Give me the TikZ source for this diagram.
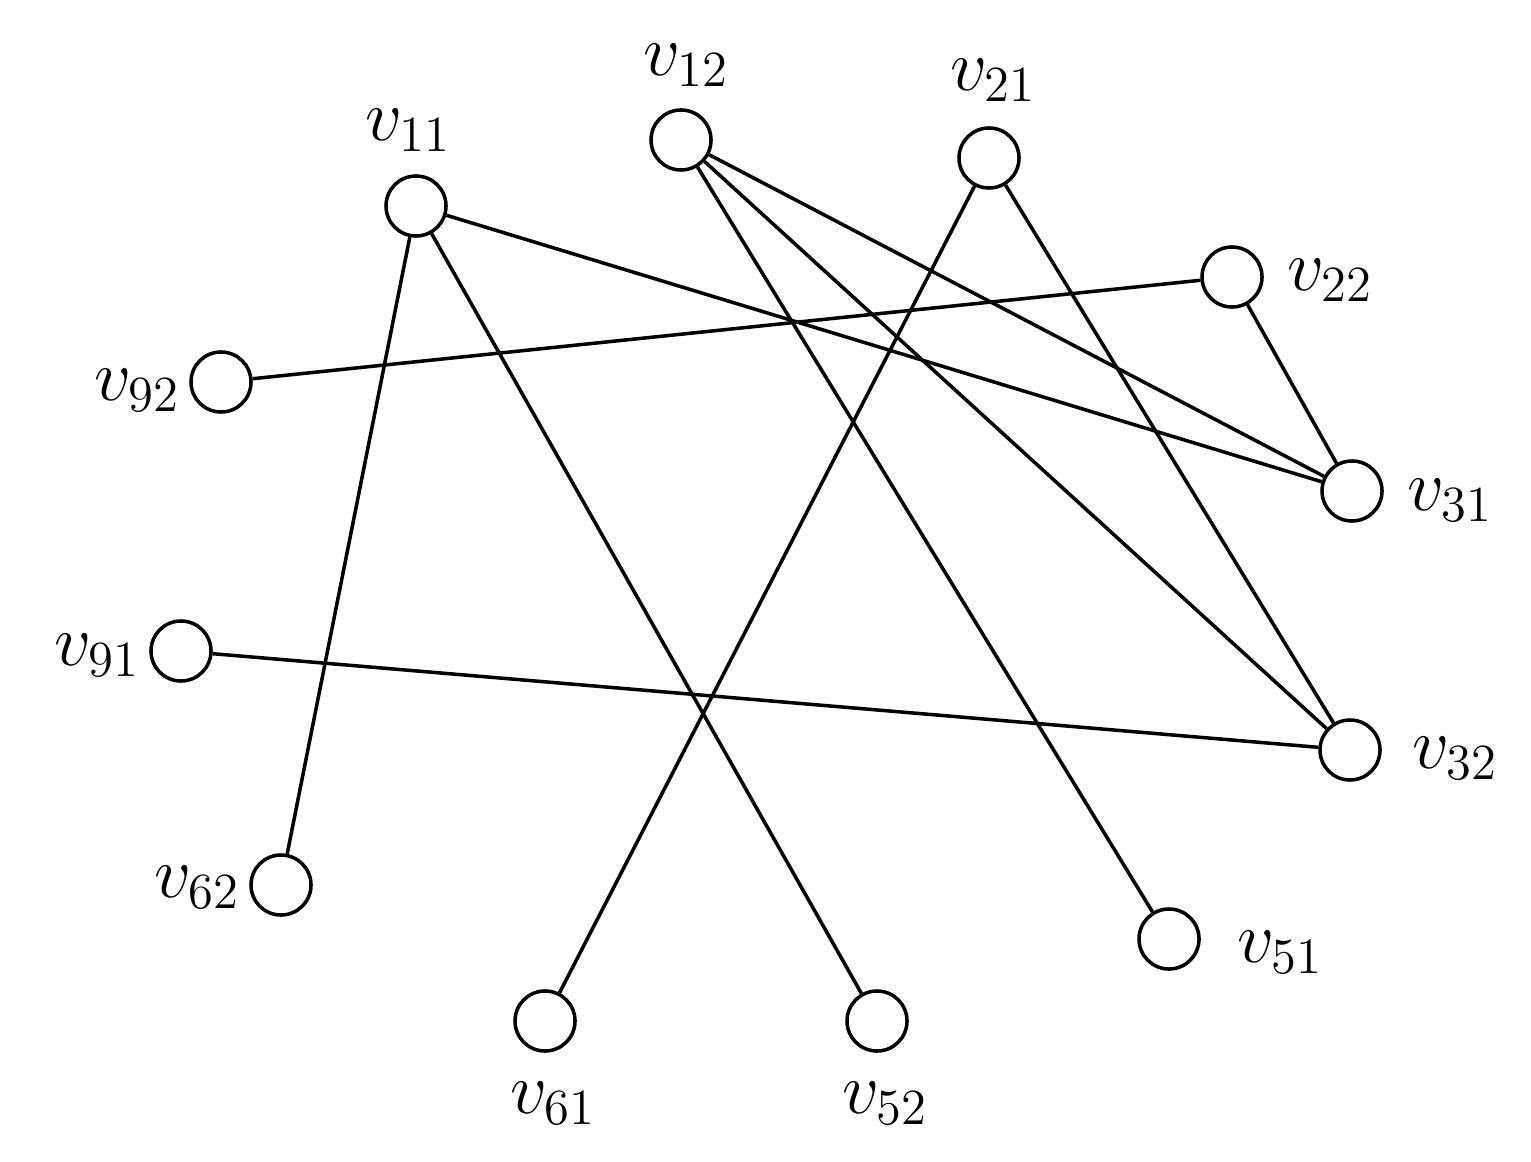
\documentclass[tikz,border=0pt]{standalone}
\begin{document}
\begin{tikzpicture}[x=0.01cm,y=-0.01cm,
  vtx/.style={circle,draw,line width=1pt,minimum size=0.6cm,inner sep=0pt},
  lab/.style={font=\fontsize{21}{24}\selectfont},
  edge/.style={line width=1pt}]
\useasboundingbox (0,0) rectangle (1531,1161);
\node[vtx] (v11) at (416,206) {}; \node[lab] (l11) at (408,130) {$v_{11}$};
\node[vtx] (v12) at (681,140) {}; \node[lab] (l12) at (686,65) {$v_{12}$};
\node[vtx] (v21) at (989,158) {}; \node[lab] (l21) at (993,80) {$v_{21}$};
\node[vtx] (v22) at (1232,277) {}; \node[lab] (l22) at (1330,280) {$v_{22}$};
\node[vtx] (v92) at (221,382) {}; \node[lab] (l92) at (137,390) {$v_{92}$};
\node[vtx] (v31) at (1352,491) {}; \node[lab] (l31) at (1450,500) {$v_{31}$};
\node[vtx] (v91) at (181,651) {}; \node[lab] (l91) at (97,655) {$v_{91}$};
\node[vtx] (v32) at (1350,750) {}; \node[lab] (l32) at (1455,758) {$v_{32}$};
\node[vtx] (v62) at (281,885) {}; \node[lab] (l62) at (197,887) {$v_{62}$};
\node[vtx] (v51) at (1169,939) {}; \node[lab] (l51) at (1280,952) {$v_{51}$};
\node[vtx] (v61) at (545,1021) {}; \node[lab] (l61) at (553,1103) {$v_{61}$};
\node[vtx] (v52) at (877,1021) {}; \node[lab] (l52) at (885,1103) {$v_{52}$};
\draw[edge] (v11)--(v62); \draw[edge] (v11)--(v52); \draw[edge] (v11)--(v31);
\draw[edge] (v12)--(v31); \draw[edge] (v12)--(v32); \draw[edge] (v12)--(v51);
\draw[edge] (v21)--(v61); \draw[edge] (v21)--(v32);
\draw[edge] (v22)--(v92); \draw[edge] (v22)--(v31);
\draw[edge] (v91)--(v32);
\end{tikzpicture}
\end{document}
